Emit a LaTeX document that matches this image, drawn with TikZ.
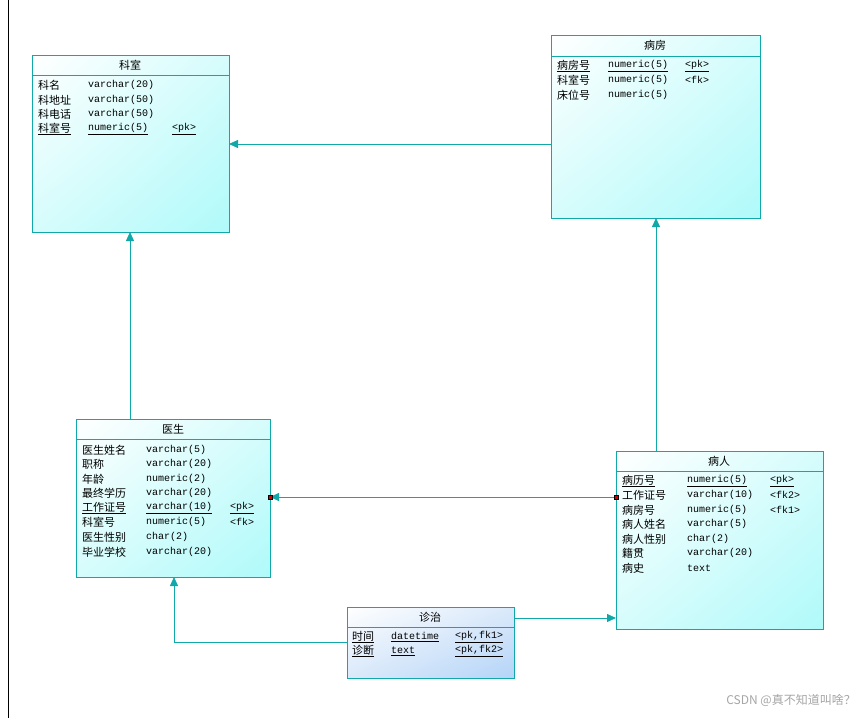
\documentclass[tikz,border=0pt]{standalone}
\usepackage{fontspec}
\setmainfont{Liberation Mono}
\newfontfamily\cjk{Noto Sans CJK SC}
\usetikzlibrary{arrows.meta,shadings}
\definecolor{edge}{HTML}{10A8A8}
\definecolor{cyanend}{HTML}{B0FAFA}
\definecolor{cyanmid}{HTML}{D6FCFC}
\definecolor{blueend}{HTML}{B4D4F8}
\definecolor{bluemid}{HTML}{DAE9FA}
\tikzset{
  tbl/.style={draw=edge, line width=0.8pt, inner sep=0pt, rectangle,
    upper left=white, upper right=cyanmid, lower left=cyanmid, lower right=cyanend},
  tblb/.style={tbl, upper right=bluemid, lower left=bluemid, lower right=blueend},
  ttl/.style={font=\cjk\fontsize{11}{12}\selectfont, inner sep=0pt},
  cell/.style={anchor=west, inner sep=0pt, font=\fontsize{10}{12}\selectfont},
  ncell/.style={anchor=west, inner sep=0pt, font=\cjk\fontsize{11}{12}\selectfont},
  conn/.style={draw=edge, line width=0.8pt},
  arr/.style={conn, -{Triangle[length=9pt,width=8pt]}},
  fkmark/.style={fill=red!80!black, draw=black, line width=0.3pt, minimum size=4pt, inner sep=0pt}
}
\newcommand{\tablebox}[6]{% name, x1,y1,x2,y2, style
  \node[#6] (#1) at ({(#2+#4)/2},{(#3+#5)/2}) [minimum width={(#4-#2)*1pt}, minimum height={(#5-#3)*1pt}] {};
}
\newcommand{\erow}[8]{% y, x1,x2,x3, name,type,key
  \node[ncell] at (#2,#1) {#5};
  \node[cell] at (#3,#1) {#6};
  \node[cell] at (#4,#1) {#7};
}
\begin{document}
\begin{tikzpicture}[x=1pt,y=-1pt]
\useasboundingbox (0,0) rectangle (868,718);
\fill[white] (0,0) rectangle (868,718);
\draw[black, line width=0.8pt] (8,0) -- (8,718);

% 科室
\tablebox{ks}{32}{55}{229}{232}{tbl}
\draw[conn] (32,75) -- (229,75);
\node[ttl] at (130,65) {科室};
\erow{85}{38}{88}{172}{科名}{varchar(20)}{}{}
\erow{100}{38}{88}{172}{科地址}{varchar(50)}{}{}
\erow{114}{38}{88}{172}{科电话}{varchar(50)}{}{}
\erow{129}{38}{88}{172}{\underline{科室号}}{\underline{numeric(5)}}{\underline{<pk>}}{}

% 病房
\tablebox{bf}{551}{35}{760}{218}{tbl}
\draw[conn] (551,56) -- (760,56);
\node[ttl] at (655,45) {病房};
\erow{66}{557}{608}{685}{\underline{病房号}}{\underline{numeric(5)}}{\underline{<pk>}}{}
\erow{80}{557}{608}{685}{科室号}{numeric(5)}{<fk>}{}
\erow{95}{557}{608}{685}{床位号}{numeric(5)}{}{}

% 医生
\tablebox{ys}{76}{419}{270}{577}{tbl}
\draw[conn] (76,439) -- (270,439);
\node[ttl] at (173,429) {医生};
\erow{450}{82}{146}{230}{医生姓名}{varchar(5)}{}{}
\erow{464}{82}{146}{230}{职称}{varchar(20)}{}{}
\erow{479}{82}{146}{230}{年龄}{numeric(2)}{}{}
\erow{493}{82}{146}{230}{最终学历}{varchar(20)}{}{}
\erow{508}{82}{146}{230}{\underline{工作证号}}{\underline{varchar(10)}}{\underline{<pk>}}{}
\erow{522}{82}{146}{230}{科室号}{numeric(5)}{<fk>}{}
\erow{537}{82}{146}{230}{医生性别}{char(2)}{}{}
\erow{552}{82}{146}{230}{毕业学校}{varchar(20)}{}{}

% 病人
\tablebox{br}{616}{451}{823}{629}{tbl}
\draw[conn] (616,471) -- (823,471);
\node[ttl] at (719,461) {病人};
\erow{481}{622}{687}{770}{\underline{病历号}}{\underline{numeric(5)}}{\underline{<pk>}}{}
\erow{495}{622}{687}{770}{工作证号}{varchar(10)}{<fk2>}{}
\erow{510}{622}{687}{770}{病房号}{numeric(5)}{<fk1>}{}
\erow{524}{622}{687}{770}{病人姓名}{varchar(5)}{}{}
\erow{539}{622}{687}{770}{病人性别}{char(2)}{}{}
\erow{553}{622}{687}{770}{籍贯}{varchar(20)}{}{}
\erow{568}{622}{687}{770}{病史}{text}{}{}

% 诊治
\tablebox{zz}{347}{607}{514}{678}{tblb}
\draw[conn] (347,627) -- (514,627);
\node[ttl] at (430,617) {诊治};
\erow{637}{352}{391}{455}{\underline{时间}}{\underline{datetime}}{\underline{<pk,fk1>}}{}
\erow{651}{352}{391}{455}{\underline{诊断}}{\underline{text}}{\underline{<pk,fk2>}}{}

% connectors
\coordinate (bfL) at (551,144); \coordinate (ksR) at (229,144);
\draw[arr] (bfL) -- (ksR);
\coordinate (ysT) at (130,419); \coordinate (ksB) at (130,232);
\draw[arr] (ysT) -- (ksB);
\coordinate (brT) at (656,451); \coordinate (bfB) at (656,218);
\draw[arr] (brT) -- (bfB);
\coordinate (brL) at (616,497); \coordinate (ysR) at (270,497);
\draw[arr] (brL) -- (ysR);
\node[fkmark] (m1) at (270,497) {};
\node[fkmark] (m2) at (616,497) {};
\coordinate (zzR) at (514,618); \coordinate (brL2) at (616,618);
\draw[arr] (zzR) -- (brL2);
\coordinate (zzL) at (347,642); \coordinate (ysB) at (174,577);
\draw[arr] (zzL) -| (ysB);

\node[font=\cjk\fontsize{12}{14}\selectfont, text=gray!70, anchor=east, inner sep=0pt] (wm) at (856,700) {CSDN @真不知道叫啥？};
\end{tikzpicture}
\end{document}
